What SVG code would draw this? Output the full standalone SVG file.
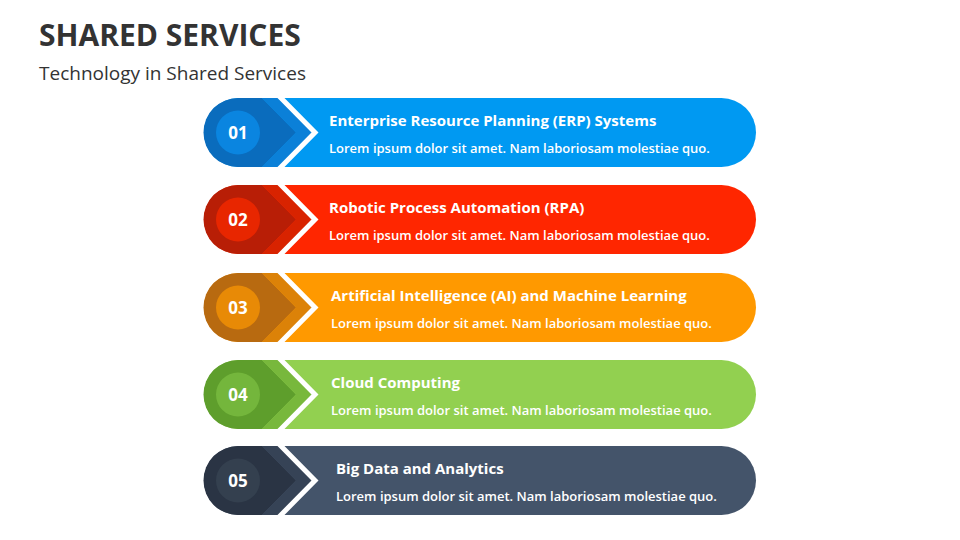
<svg xmlns="http://www.w3.org/2000/svg" width="960" height="540" viewBox="0 0 960 540">
<style>
text{font-family:"Open Sans","Liberation Sans",sans-serif}
.h{font-size:30px;font-weight:bold;fill:#333}
.s{font-size:19px;fill:#333}
.t{font-size:15px;font-weight:bold;fill:#fff}
.d{font-size:13px;font-weight:600;fill:#fff}
.n{font-size:17px;font-weight:bold;fill:#fff;text-anchor:middle}
.w{fill:none;stroke:#fff;stroke-width:5}
</style>
<text class="h" x="39" y="46">SHARED SERVICES</text>
<text class="s" x="39" y="80">Technology in Shared Services</text>
<g id="row1" transform="translate(0,98)">
<rect x="204" width="552" height="69" rx="34.5" fill="#0099f2"/>
<path d="M238,0H262L296,34.5L262,69H238A34.5,34.5 0 0 1 238,0Z" fill="#0a6cbd"/>
<path d="M262,0H278L313,34.5L278,69H262L296,34.5Z" fill="#0b80d8"/>
<polyline class="w" points="279,-2 315,34.5 279,71"/>
<circle cx="238" cy="34.5" r="22" fill="#0a85e0"/>
<text class="n" x="238" y="41">01</text>
<text class="t" x="329" y="28">Enterprise Resource Planning (ERP) Systems</text>
<text class="d" x="329" y="55">Lorem ipsum dolor sit amet. Nam laboriosam molestiae quo.</text>
</g>
<g id="row2" transform="translate(0,185)">
<rect x="204" width="552" height="69" rx="34.5" fill="#ff2600"/>
<path d="M238,0H262L296,34.5L262,69H238A34.5,34.5 0 0 1 238,0Z" fill="#b81e06"/>
<path d="M262,0H278L313,34.5L278,69H262L296,34.5Z" fill="#d82300"/>
<polyline class="w" points="279,-2 315,34.5 279,71"/>
<circle cx="238" cy="34.5" r="22" fill="#e82600"/>
<text class="n" x="238" y="41">02</text>
<text class="t" x="329" y="28">Robotic Process Automation (RPA)</text>
<text class="d" x="329" y="55">Lorem ipsum dolor sit amet. Nam laboriosam molestiae quo.</text>
</g>
<g id="row3" transform="translate(0,273)">
<rect x="204" width="552" height="69" rx="34.5" fill="#ff9900"/>
<path d="M238,0H262L296,34.5L262,69H238A34.5,34.5 0 0 1 238,0Z" fill="#b86a10"/>
<path d="M262,0H278L313,34.5L278,69H262L296,34.5Z" fill="#dc8208"/>
<polyline class="w" points="279,-2 315,34.5 279,71"/>
<circle cx="238" cy="34.5" r="22" fill="#e88a06"/>
<text class="n" x="238" y="41">03</text>
<text class="t" x="331" y="28">Artificial Intelligence (AI) and Machine Learning</text>
<text class="d" x="331" y="55">Lorem ipsum dolor sit amet. Nam laboriosam molestiae quo.</text>
</g>
<g id="row4" transform="translate(0,360)">
<rect x="204" width="552" height="69" rx="34.5" fill="#92d050"/>
<path d="M238,0H262L296,34.5L262,69H238A34.5,34.5 0 0 1 238,0Z" fill="#5e9e2c"/>
<path d="M262,0H278L313,34.5L278,69H262L296,34.5Z" fill="#78b83c"/>
<polyline class="w" points="279,-2 315,34.5 279,71"/>
<circle cx="238" cy="34.5" r="22" fill="#74b63c"/>
<text class="n" x="238" y="41">04</text>
<text class="t" x="331" y="28">Cloud Computing</text>
<text class="d" x="331" y="55">Lorem ipsum dolor sit amet. Nam laboriosam molestiae quo.</text>
</g>
<g id="row5" transform="translate(0,446)">
<rect x="204" width="552" height="69" rx="34.5" fill="#44546a"/>
<path d="M238,0H262L296,34.5L262,69H238A34.5,34.5 0 0 1 238,0Z" fill="#2a3444"/>
<path d="M262,0H278L313,34.5L278,69H262L296,34.5Z" fill="#364356"/>
<polyline class="w" points="279,-2 315,34.5 279,71"/>
<circle cx="238" cy="34.5" r="22" fill="#34404f"/>
<text class="n" x="238" y="41">05</text>
<text class="t" x="336" y="28">Big Data and Analytics</text>
<text class="d" x="336" y="55">Lorem ipsum dolor sit amet. Nam laboriosam molestiae quo.</text>
</g>
<g id="connectors"/>
</svg>
